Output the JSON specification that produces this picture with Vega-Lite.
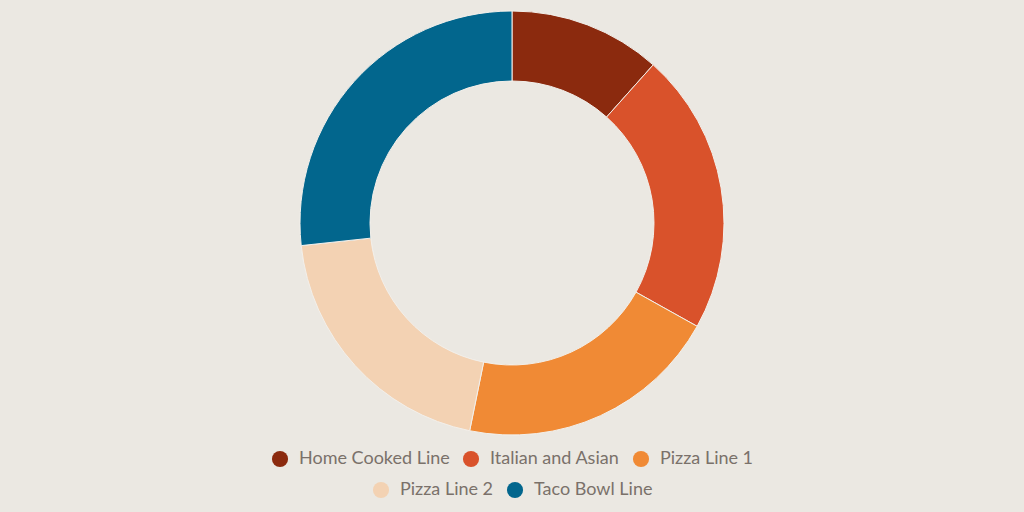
{
  "$schema": "https://vega.github.io/schema/vega-lite/v6.json",
  "width": 1024,
  "height": 446,
  "padding": {"top": 0, "left": 0, "right": 0, "bottom": 14},
  "autosize": {"type": "pad"},
  "background": "#EBE8E2",
  "data": {
    "values": [
      {"line": "Home Cooked Line", "share": 11.6, "order": 1},
      {"line": "Italian and Asian", "share": 21.5, "order": 2},
      {"line": "Pizza Line 1", "share": 20.1, "order": 3},
      {"line": "Pizza Line 2", "share": 20.1, "order": 4},
      {"line": "Taco Bowl Line", "share": 26.7, "order": 5}
    ]
  },
  "layer": [
    {
      "mark": {"type": "arc", "outerRadius": 212, "innerRadius": 142, "stroke": "#F2EFEA", "strokeWidth": 1},
      "encoding": {
        "theta": {"field": "share", "type": "quantitative", "stack": true},
        "order": {"field": "order", "type": "quantitative"},
        "color": {
          "field": "line",
          "type": "nominal",
          "scale": {
            "domain": ["Home Cooked Line", "Italian and Asian", "Pizza Line 1", "Pizza Line 2", "Taco Bowl Line"],
            "range": ["#8B2A0E", "#D9522B", "#F08A35", "#F3D2B3", "#02668D"]
          },
          "legend": {"values": ["Home Cooked Line", "Italian and Asian", "Pizza Line 1"], "title": null}
        }
      }
    },
    {
      "mark": {"type": "arc", "outerRadius": 212, "innerRadius": 142, "stroke": "#F2EFEA", "strokeWidth": 1},
      "encoding": {
        "theta": {"field": "share", "type": "quantitative", "stack": true},
        "order": {"field": "order", "type": "quantitative"},
        "fill": {
          "field": "line",
          "type": "nominal",
          "scale": {
            "domain": ["Pizza Line 2", "Taco Bowl Line", "Home Cooked Line", "Italian and Asian", "Pizza Line 1"],
            "range": ["#F3D2B3", "#02668D", "#8B2A0E", "#D9522B", "#F08A35"]
          },
          "legend": {"values": ["Pizza Line 2", "Taco Bowl Line"], "title": null}
        }
      }
    }
  ],
  "config": {
    "view": {"stroke": null},
    "legend": {
      "orient": "bottom",
      "direction": "horizontal",
      "offset": 4,
      "symbolType": "circle",
      "symbolSize": 260,
      "symbolStrokeWidth": 0,
      "symbolOpacity": 1,
      "labelFont": "Lato",
      "labelFontSize": 18,
      "labelColor": "#7A716A",
      "labelOffset": 10,
      "columnPadding": 12,
      "padding": 0,
      "layout": {"bottom": {"anchor": "middle", "direction": "vertical", "center": true, "margin": 13}}
    }
  }
}
